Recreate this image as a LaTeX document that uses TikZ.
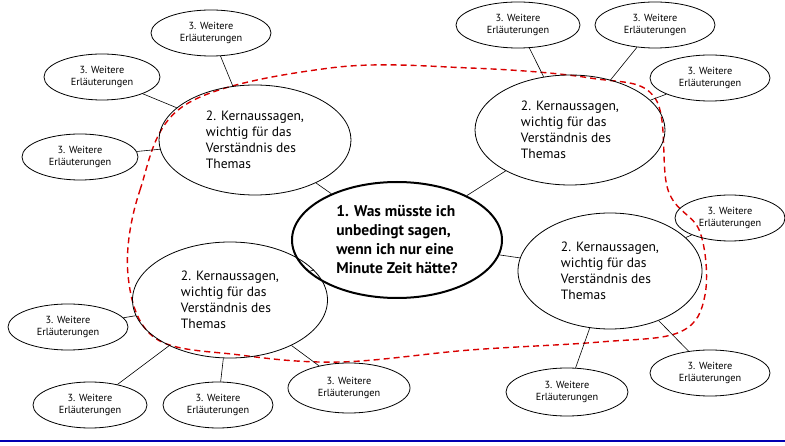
\documentclass[tikz,border=0pt]{standalone}
\usepackage{fontspec}
\setmainfont{PT Sans}
\usetikzlibrary{shapes.geometric}
\begin{document}
\begin{tikzpicture}[x=1pt,y=-1pt,
  el/.style={ellipse,draw,line width=0.8pt,inner sep=0pt},
  small/.style={el,minimum width=116pt,minimum height=46pt,font=\fontsize{10.3}{12}\selectfont,align=center},
  kern/.style={el,minimum width=192pt,minimum height=110pt,font=\fontsize{13.5}{16}\selectfont,align=left},
  con/.style={line width=0.6pt}]
\useasboundingbox (0,0) rectangle (785,446);
\fill[white] (0,0) rectangle (785,446);
\draw[blue!70!black,line width=1.5pt] (0,441) -- (785,441);
\draw[red!85!black,dashed,line width=1.4pt,dash pattern=on 6pt off 4pt] plot[smooth cycle,tension=0.6] coordinates {
 (128,275) (140,190) (185,105) (330,68) (470,68) (590,78) (655,98) (668,190) (700,232) (705,295) (680,332) (600,342) (470,350) (340,362) (240,355) (155,338)};
\node[el,line width=2pt,minimum width=210pt,minimum height=116pt,font=\fontsize{15.5}{19}\selectfont\bfseries,align=left] (c) at (397,240) {1. Was müsste ich\\unbedingt sagen,\\wenn ich nur eine\\Minute Zeit hätte?};
\node[kern] (tl) at (255,140) {2. Kernaussagen,\\wichtig für das\\Verständnis des\\Themas};
\node[kern,minimum width=190pt] (tr) at (570,130) {2. Kernaussagen,\\wichtig für das\\Verständnis des\\Themas};
\node[kern,minimum width=195pt,minimum height=116pt] (bl) at (230,300) {2. Kernaussagen,\\wichtig für das\\Verständnis des\\Themas};
\node[kern,minimum width=184pt,minimum height=116pt] (br) at (610,271) {2. Kernaussagen,\\wichtig für das\\Verständnis des\\Themas};
\def\tx{3. Weitere\\Erläuterungen}
\node[small,minimum width=120pt] (s1) at (211,33) {\tx};
\node[small] (s2) at (102,77) {\tx};
\node[small] (s3) at (80,157) {\tx};
\node[small,minimum width=124pt] (s4) at (518,25) {\tx};
\node[small,minimum width=120pt] (s5) at (655,25) {\tx};
\node[small,minimum width=120pt] (s6) at (710,78) {\tx};
\node[small,minimum width=110pt] (s7) at (730,218) {\tx};
\node[small,minimum width=122pt,minimum height=48pt] (s8) at (567,392) {\tx};
\node[small,minimum width=120pt] (s9) at (710,373) {\tx};
\node[small,minimum width=120pt] (s10) at (68,327) {\tx};
\node[small,minimum width=114pt] (s11) at (90,405) {\tx};
\node[small,minimum width=110pt] (s12) at (218,405) {\tx};
\node[small,minimum width=122pt,minimum height=50pt] (s13) at (349,388) {\tx};
\foreach \a/\b in {c/tl,c/tr,c/bl,c/br,tl/s1,tl/s2,tl/s3,tr/s4,tr/s5,tr/s6,br/s7,br/s8,br/s9,bl/s10,bl/s11,bl/s12,bl/s13}
  \draw[con] (\a) -- (\b);
\end{tikzpicture}
\end{document}
